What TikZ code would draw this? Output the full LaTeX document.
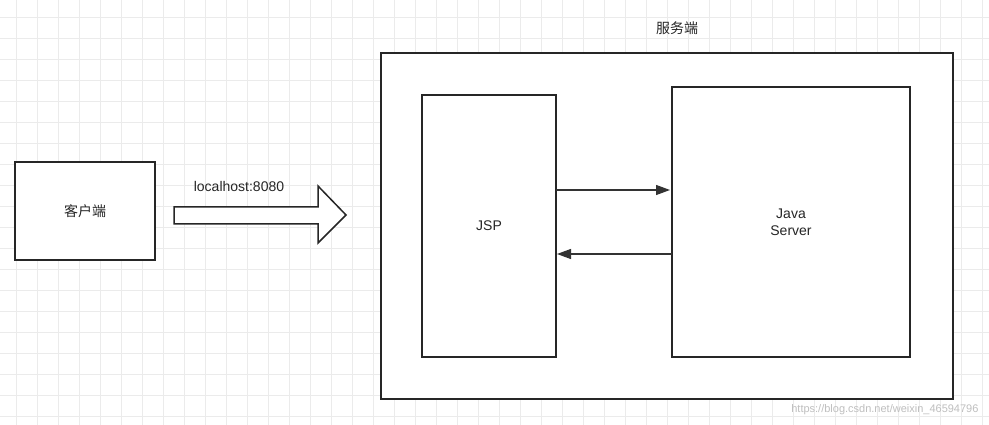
\documentclass[tikz,border=0pt]{standalone}
\usepackage{fontspec}
\setmainfont{Liberation Sans}
\newfontfamily\cjk{Noto Sans CJK SC}
\usetikzlibrary{arrows.meta}
\tikzset{box/.style={draw=black!85,line width=1.3pt,fill=white},
 lbl/.style={font=\fontsize{14}{17}\selectfont,text=black!85},
 conn/.style={draw=black!80,line width=1.2pt,-{Triangle[length=14pt,width=10pt]}}}
\begin{document}
\begin{tikzpicture}[x=1pt,y=-1pt]
\useasboundingbox (0,0) rectangle (989,425);
\fill[white] (0,0) rectangle (989,425);
\foreach \i in {0,...,47} \draw[black!8,line width=0.8pt] (16+\i*21,0) -- (16+\i*21,425);
\foreach \j in {0,...,20} \draw[black!8,line width=0.8pt] (0,17+\j*21) -- (989,17+\j*21);
\node[box,minimum width=140,minimum height=98] (client) at (85,211) {};
\node[lbl] (clientt) at (client.center) {\cjk 客户端};
\node[box,minimum width=572,minimum height=346] (server) at (667,226) {};
\node[lbl,anchor=south] (servert) at (677,38) {\cjk 服务端};
\node[box,minimum width=134,minimum height=262] (jsp) at (489,226) {};
\node[lbl] (jspt) at (jsp.center) {JSP};
\node[box,minimum width=238,minimum height=270] (java) at (791,222) {};
\node[lbl,align=center] (javat) at (java.center) {Java\\Server};
\draw[draw=black!85,line width=1.5pt,fill=white,line join=miter]
  (174,207) -- (318,207) -- (318,186) -- (346,215) -- (318,243) -- (318,224) -- (174,224) -- cycle;
\node[lbl] (url) at (239,186) {localhost:8080};
\coordinate (a1) at (556,190);
\coordinate (a2) at (670,190);
\coordinate (b1) at (672,254);
\coordinate (b2) at (557,254);
\draw[conn] (a1) -- (a2);
\draw[conn] (b1) -- (b2);
\node[text=black!25,font=\fontsize{11}{13}\selectfont,anchor=south east] (wm) at (982,418) {https://blog.csdn.net/weixin\_46594796};
\end{tikzpicture}
\end{document}
